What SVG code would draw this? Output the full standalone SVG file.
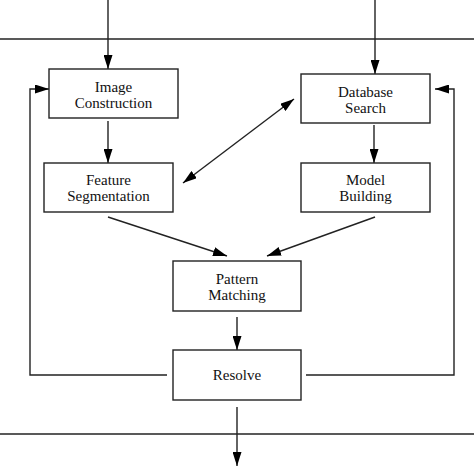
<svg xmlns="http://www.w3.org/2000/svg" width="474" height="467" viewBox="0 0 474 467">
<defs>
<marker id="ah" markerWidth="14" markerHeight="9" refX="14" refY="4.5" orient="auto-start-reverse" markerUnits="userSpaceOnUse">
<path d="M0,0 L14,4.5 L0,9 z" fill="#000"/>
</marker>
<style>
.box{fill:#fff;stroke:#222;stroke-width:1.4}
.t{font-family:"Liberation Serif","Times New Roman",serif;font-size:15px;fill:#111;text-anchor:middle}
.c{fill:none;stroke:#222;stroke-width:1.4}
.a{fill:none;stroke:#222;stroke-width:1.4;marker-end:url(#ah)}
</style>
</defs>
<rect width="474" height="467" fill="#fff"/>
<g id="connectors">
<line class="c" x1="0" y1="39" x2="474" y2="39"/>
<line class="c" x1="0" y1="434" x2="474" y2="434"/>
<line class="a" x1="108" y1="0" x2="108" y2="69"/>
<line class="a" x1="375" y1="0" x2="375" y2="74"/>
<line class="a" x1="108" y1="121" x2="108" y2="163"/>
<line class="a" x1="374" y1="125" x2="374" y2="163"/>
<polyline class="a" points="167,375 30,375 30,89 49,89"/>
<polyline class="a" points="306,375 454,375 454,89 435,89"/>
<line class="a" x1="183" y1="183" x2="294" y2="99" style="marker-start:url(#ah)"/>
<line class="a" x1="108" y1="217" x2="227" y2="256"/>
<line class="a" x1="375" y1="217" x2="267" y2="256"/>
<line class="a" x1="237" y1="317" x2="237" y2="350"/>
<line class="a" x1="237" y1="407" x2="237" y2="466"/>
</g>
<g id="image-construction">
<rect class="box" x="49" y="69" width="129" height="49"/>
<text class="t" x="113.5" y="91.5">Image</text>
<text class="t" x="113.5" y="107.5">Construction</text>
</g>
<g id="feature-segmentation">
<rect class="box" x="44" y="163" width="129" height="49"/>
<text class="t" x="108.5" y="185">Feature</text>
<text class="t" x="108.5" y="201">Segmentation</text>
</g>
<g id="database-search">
<rect class="box" x="301" y="74" width="129" height="49"/>
<text class="t" x="365.5" y="96.5">Database</text>
<text class="t" x="365.5" y="112.5">Search</text>
</g>
<g id="model-building">
<rect class="box" x="301" y="163" width="129" height="49"/>
<text class="t" x="365.5" y="185">Model</text>
<text class="t" x="365.5" y="201">Building</text>
</g>
<g id="pattern-matching">
<rect class="box" x="173" y="261" width="128" height="50"/>
<text class="t" x="237" y="283.5">Pattern</text>
<text class="t" x="237" y="299.5">Matching</text>
</g>
<g id="resolve">
<rect class="box" x="173" y="350" width="128" height="50"/>
<text class="t" x="237" y="380">Resolve</text>
</g>
</svg>
